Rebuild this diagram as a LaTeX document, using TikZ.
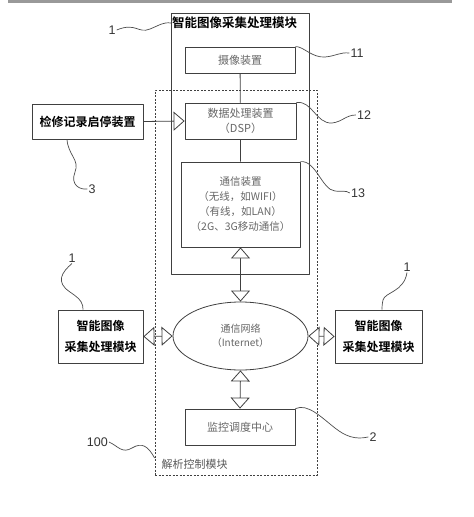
\documentclass[tikz,border=0pt]{standalone}
\usepackage{fontspec}
\setmainfont{Liberation Sans}
\newfontfamily\cjk{Noto Sans CJK SC}
\newfontfamily\cjkb{Noto Sans CJK SC Bold}
\usetikzlibrary{arrows.meta,shapes.geometric}
\newcommand\fs[1]{\fontsize{#1}{#1}\selectfont}

\begin{document}
\begin{tikzpicture}[x=1pt,y=-1pt,line join=round,
                    frame/.style={rectangle,draw=black!75,line width=0.8pt,inner sep=0pt},
                    part/.style={frame,text=black!60,align=center,font=\cjk\fs{11}},
                    side/.style={frame,text=black,align=center,font=\cjkb\fs{12}},
                    num/.style={text=black!80,inner sep=1pt,font=\fs{12.5}},
                    lead/.style={draw=black!70,line width=0.7pt},
                    hollow/.style={draw=black!75,line width=0.8pt,double=white,double distance=6.5pt},
                    tip/.tip={Triangle[open,fill=white,line width=0.8pt,width=19pt,length=11pt]}]

  \useasboundingbox (0,0) rectangle (474,517);
  \fill[black!40] (8,0) rectangle (452,3);

  % analysis / control module (dashed)
  \node[frame,dash pattern=on 2pt off 1.5pt,minimum width=162,minimum height=385] (ana) at (236,282.5) {};
  \node[anchor=west,text=black!65,font=\cjk\fs{11}] (anat) at (158,464) {解析控制模块};

  % image acquisition module
  \node[frame,minimum width=138,minimum height=261] (mod) at (240,143.5) {};
  \node[anchor=west,inner sep=1pt,font=\cjkb\fs{12.5}] (modt) at (171,23) {智能图像采集处理模块};

  \node[part,minimum width=110,minimum height=26] (cam) at (240,60) {摄像装置};
  \node[part,minimum width=111,minimum height=36] (dsp) at (240.5,121)
       {数据处理装置\\[4pt]（DSP）};
  \node[part,minimum width=119,minimum height=85,font=\cjk\fs{10.5}] (comm) at (240.5,204.5)
       {通信装置\\[4.5pt]（无线，如WIFI）\\[4.5pt]（有线，如LAN）\\[4.5pt]（2G、3G移动通信）};

  \node[part,ellipse,minimum width=135,minimum height=68,font=\cjk\fs{10}] (net) at (240.5,336)
       {通信网络\\[4pt]（Internet）};
  \node[part,minimum width=110,minimum height=36] (mon) at (240,427) {监控调度中心};

  \node[side,minimum width=111,minimum height=35] (rec) at (87.5,121.5) {检修记录启停装置};
  \node[side,minimum width=85,minimum height=53] (modl) at (100.5,336.5) {智能图像\\[9pt]采集处理模块};
  \node[side,minimum width=87,minimum height=53] (modr) at (378.5,336.5) {智能图像\\[9pt]采集处理模块};

  % reference numbers
  \node[num] (n1)   at (112,30)  {1};
  \node[num] (n11)  at (357,53)  {11};
  \node[num] (n12)  at (364,115) {12};
  \node[num] (n13)  at (358,193) {13};
  \node[num] (n3)   at (92,189)  {3};
  \node[num] (n1l)  at (72,258)  {1};
  \node[num] (n1r)  at (407,267) {1};
  \node[num,anchor=east] (n100) at (109,442) {100};
  \node[num] (n2)   at (373,437) {2};

  \draw[draw=black!75,line width=0.8pt] (cam) -- (dsp) (dsp) -- (comm);

  \path[hollow]
  (rec.east)   edge [-tip]   (dsp.west)
  (comm.south) edge [tip-tip] (net.north)
  (net.south)  edge [tip-tip] (mon.north)
  (modl.east)  edge [tip-tip] (net.west)
  (net.east)   edge [tip-tip] (modr.west)
  ;

  \path[lead]
  (n1.east) .. controls (136,22) and (138,34) .. (150,29) .. controls (160,25) and (163,22) .. (modt.west)
  (cam.north east) .. controls (303,46) and (312,58) .. (325,57) .. controls (336,56) and (340,52) .. (n11.west)
  (dsp.north east) .. controls (312,100) and (316,124) .. (332,123) .. controls (342,122) and (346,115) .. (n12.west)
  (comm.north east) .. controls (316,160) and (322,190) .. (335,191) .. controls (343,192) and (345,190) .. (n13.west)
  (rec.south -| 67,0) .. controls (68,155) and (80,160) .. (75,172) .. controls (70,185) and (80,190) .. (n3.west)
  (n1l.south) .. controls (62,272) and (55,282) .. (70,292) .. controls (82,300) and (83,304) .. (modl.north -| 83,0)
  (n1r.south) .. controls (404,292) and (385,292) .. (383,300) .. controls (382,305) and (382,307) .. (modr.north -| 382,0)
  (n100.east) .. controls (118,446) and (122,454) .. (132,448) .. controls (142,442) and (148,446) .. (ana.west |- 0,458)
  (mon.north east) .. controls (308,403) and (322,418) .. (335,428) .. controls (345,436) and (355,440) .. (n2.west)
  ;
\end{tikzpicture}
\end{document}
